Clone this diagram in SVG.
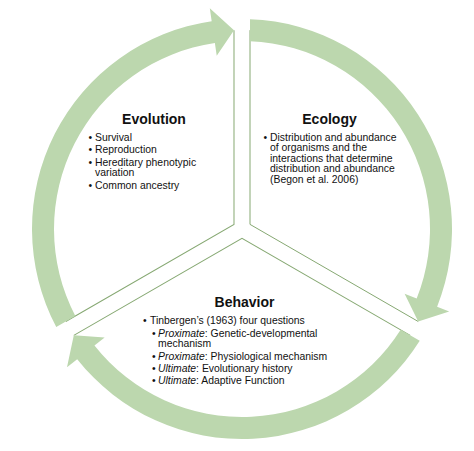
<svg xmlns="http://www.w3.org/2000/svg" width="474" height="451" viewBox="0 0 474 451">
  <defs>
    <style>
      .ring { fill: #bcd7ae; }
      .edge { fill: none; stroke: #86a872; stroke-width: 1; }
      text { font-family: "Liberation Sans", Arial, sans-serif; fill: #111111; }
      .title { font-size: 14px; font-weight: bold; text-anchor: middle; }
      .body { font-size: 10.4px; }
      .it { font-style: italic; }
    </style>
    <path id="sectorEdge" class="edge" d="M250,30.16 L250,224.38 L418.20,321.49"/>
    <path id="arrow" class="ring" d="M250,19.15 A210,210 0 0 1 437.12,306.65 L449.20,311.45 L418.20,321.49 L404.60,293.71 L416.68,298.51 A188,188 0 0 0 250,41.17 Z"/>
  </defs>
  <rect width="474" height="451" fill="#ffffff"/>

  <g id="evolution">
    <use href="#sectorEdge" transform="rotate(240 242 229)"/>
    <text class="title" x="154" y="124">Evolution</text>
    <g class="body">
      <text x="88.5" y="140.5">•</text><text x="95" y="140.5">Survival</text>
      <text x="88.5" y="153">•</text><text x="95" y="153">Reproduction</text>
      <text x="88.5" y="165.5">•</text><text x="95" y="165.5">Hereditary phenotypic</text>
      <text x="95" y="176">variation</text>
      <text x="88.5" y="188.5">•</text><text x="95" y="188.5">Common ancestry</text>
    </g>
  </g>

  <g id="ecology">
    <use href="#sectorEdge"/>
    <text class="title" x="329.5" y="124">Ecology</text>
    <g class="body">
      <text x="263.5" y="141">•</text><text x="270" y="141">Distribution and abundance</text>
      <text x="270" y="151.4">of organisms and the</text>
      <text x="270" y="161.8">interactions that determine</text>
      <text x="270" y="172.2">distribution and abundance</text>
      <text x="270" y="182.6">(Begon et al. 2006)</text>
    </g>
  </g>

  <g id="behavior">
    <use href="#sectorEdge" transform="rotate(120 242 229)"/>
    <text class="title" x="244.5" y="306.5">Behavior</text>
    <g class="body">
      <text x="143" y="324.3">•</text><text x="150" y="324.3">Tinbergen’s (1963) four questions</text>
      <text x="152" y="336.5">•</text><text x="158" y="336.5"><tspan class="it">Proximate</tspan>: Genetic-developmental</text>
      <text x="158" y="346.5">mechanism</text>
      <text x="152" y="359.5">•</text><text x="158" y="359.5"><tspan class="it">Proximate</tspan>: Physiological mechanism</text>
      <text x="152" y="372">•</text><text x="158" y="372"><tspan class="it">Ultimate</tspan>: Evolutionary history</text>
      <text x="152" y="384.3">•</text><text x="158" y="384.3"><tspan class="it">Ultimate</tspan>: Adaptive Function</text>
    </g>
  </g>

  <g id="connectors">
    <use id="ecology-to-behavior" href="#arrow"/>
    <use id="behavior-to-evolution" href="#arrow" transform="rotate(120 242 229)"/>
    <use id="evolution-to-ecology" href="#arrow" transform="rotate(240 242 229)"/>
  </g>
</svg>
